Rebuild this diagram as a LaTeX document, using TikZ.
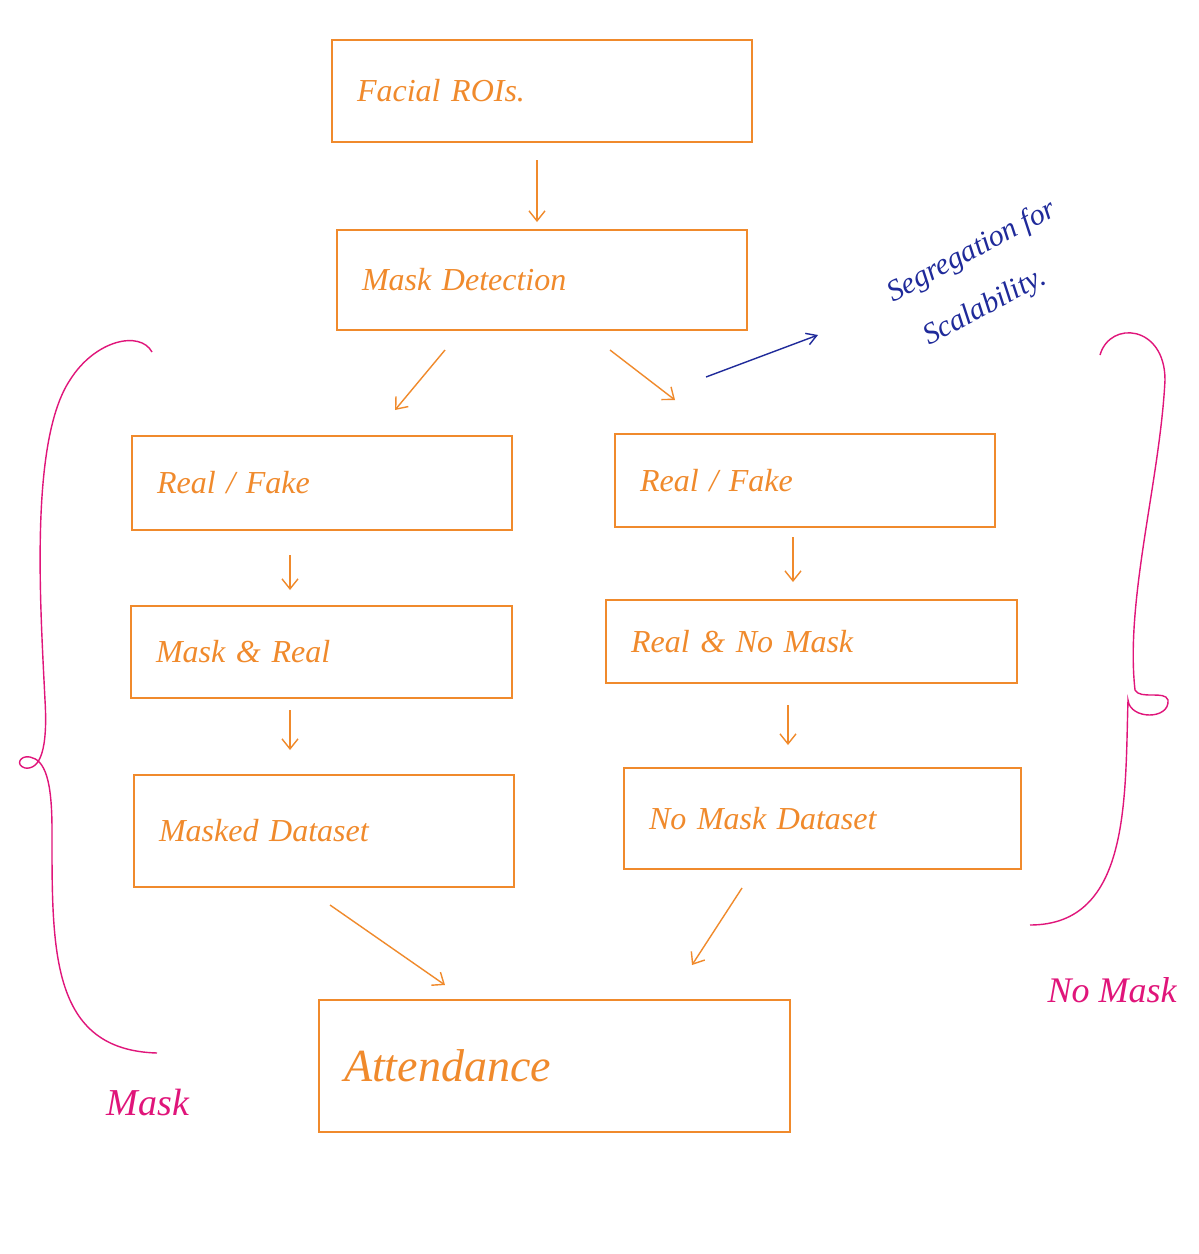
\documentclass[tikz,border=0pt]{standalone}
\usepackage{fontspec}
\setmainfont{Liberation Serif}
\usetikzlibrary{arrows.meta}
\definecolor{org}{HTML}{F08A2C}
\definecolor{pnk}{HTML}{E0157A}
\definecolor{blu}{HTML}{1F2A9A}
\begin{document}
\begin{tikzpicture}[x=1pt,y=-1pt,
  box/.style={draw=org,line width=1.6pt,text=org,font=\itshape\fontsize{32}{36}\selectfont,inner sep=0pt},
  arr/.style={draw=org,line width=1.4pt,-{Straight Barb[length=10pt,width=16pt]}},
  brace/.style={draw=pnk,line width=1.4pt},
  seg/.style={text=blu,font=\itshape\fontsize{30}{34}\selectfont,rotate=28,inner sep=0pt}]
\useasboundingbox[fill=white] (0,0) rectangle (1199,1254);
\newcommand\bx[6]{\node[box,minimum width=#4-#2,minimum height=#5-#3,text width=#4-#2-50,align=left] (#1) at ({(#2+#4)/2},{(#3+#5)/2}) {#6};}
\bx{roi}{332}{40}{752}{142}{Facial ROIs.}
\bx{md}{337}{230}{747}{330}{Mask Detection}
\bx{rfl}{132}{436}{512}{530}{Real / Fake}
\bx{rfr}{615}{434}{995}{527}{Real / Fake}
\bx{mr}{131}{606}{512}{698}{Mask \& Real}
\bx{rnm}{606}{600}{1017}{683}{Real \& No Mask}
\bx{mds}{134}{775}{514}{887}{Masked Dataset}
\bx{nmd}{624}{768}{1021}{869}{No Mask Dataset}
\node[box,minimum width=471,minimum height=132,text width=421,align=left,font=\itshape\fontsize{46}{50}\selectfont] (att) at (554.5,1066) {Attendance};
\coordinate (a1) at (537,160); \coordinate (a2) at (537,222);
\draw[arr] (a1) -- (a2);
\coordinate (b1) at (445,350); \coordinate (b2) at (395,410); \draw[arr] (b1) -- (b2);
\coordinate (c1) at (610,350); \coordinate (c2) at (675,400); \draw[arr] (c1) -- (c2);
\coordinate (d1) at (290,555); \coordinate (d2) at (290,590); \draw[arr] (d1) -- (d2);
\coordinate (e1) at (793,537); \coordinate (e2) at (793,582); \draw[arr] (e1) -- (e2);
\coordinate (f1) at (290,710); \coordinate (f2) at (290,750); \draw[arr] (f1) -- (f2);
\coordinate (g1) at (788,705); \coordinate (g2) at (788,745); \draw[arr] (g1) -- (g2);
\coordinate (h1) at (330,905); \coordinate (h2) at (445,985); \draw[arr] (h1) -- (h2);
\coordinate (i1) at (742,888); \coordinate (i2) at (692,965); \draw[arr] (i1) -- (i2);
\coordinate (j1) at (706,377); \coordinate (j2) at (818,335);
\draw[draw=blu,line width=1.4pt,-{Straight Barb[length=10pt,width=12pt]}] (j1) -- (j2);
\node[seg] (seg1) at (972,252) {Segregation for};
\node[seg] (seg2) at (985,308) {Scalability.};
% left brace
\draw[brace] (152,352) .. controls (140,330) and (95,340) .. (70,380)
  .. controls (30,440) and (40,600) .. (45,700)
  .. controls (48,750) and (40,770) .. (25,768)
  .. controls (15,765) and (20,755) .. (30,757)
  .. controls (45,760) and (52,780) .. (52,830)
  .. controls (52,950) and (50,1050) .. (157,1053);
% right brace
\draw[brace] (1100,355) .. controls (1110,320) and (1165,325) .. (1165,380)
  .. controls (1160,480) and (1125,600) .. (1135,690)
  .. controls (1140,700) and (1165,690) .. (1168,700)
  .. controls (1170,720) and (1130,720) .. (1128,700)
  .. controls (1125,800) and (1130,925) .. (1030,925);
\node[text=pnk,font=\itshape\fontsize{38}{40}\selectfont] (lm) at (148,1102) {Mask};
\node[text=pnk,font=\itshape\fontsize{36}{40}\selectfont] (lnm) at (1112,990) {No Mask};
\end{tikzpicture}
\end{document}
